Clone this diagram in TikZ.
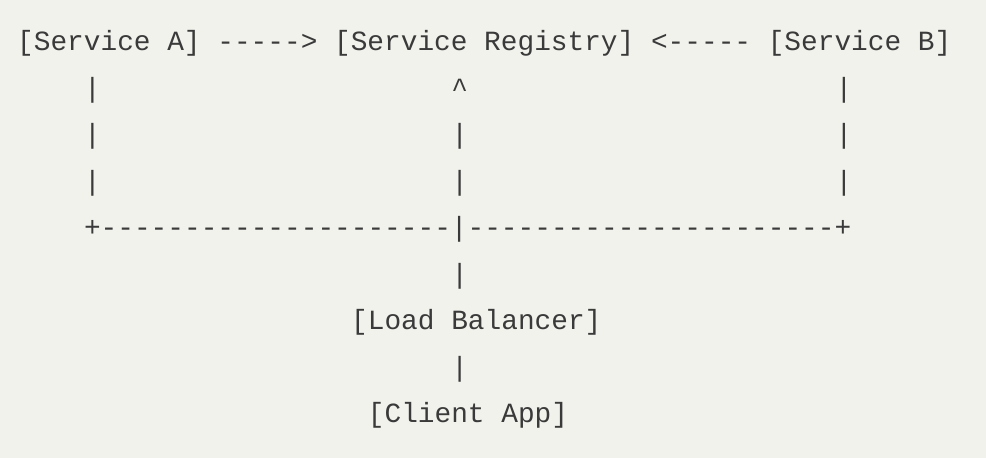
\documentclass[tikz,border=0pt]{standalone}
\usepackage{fontspec}
\setmonofont{Liberation Mono}
\definecolor{bg}{HTML}{F2F2ED}
\definecolor{ink}{HTML}{3A3A3A}
\begin{document}
\begin{tikzpicture}[x=1pt,y=1pt,
  t/.style={anchor=base west,inner sep=0pt,text=ink,font=\ttfamily\fontsize{27.8}{30}\selectfont}]
\fill[bg] (0,0) rectangle (986,458);
\useasboundingbox (0,0) rectangle (986,458);
\def\cx#1{17+#1*16.7}
\def\ly#1{458-51-#1*46.5}
\node[t] (l1) at ({\cx{0}},{\ly{0}}) {[Service A] -----> [Service Registry] <----- [Service B]};
\foreach \r in {1,2,3}{
  \node[t] (a\r) at ({\cx{4}},{\ly{\r}}) {|};
  \node[t] (b\r) at ({\cx{49}},{\ly{\r}}) {|};
}
\node[t] (c1) at ({\cx{26}},{\ly{1}}) {\^{}};
\node[t] (c2) at ({\cx{26}},{\ly{2}}) {|};
\node[t] (c3) at ({\cx{26}},{\ly{3}}) {|};
\node[t] (l5) at ({\cx{4}},{\ly{4}}) {+---------------------|----------------------+};
\node[t] (c5) at ({\cx{26}},{\ly{5}}) {|};
\node[t] (lb) at ({\cx{20}},{\ly{6}}) {[Load Balancer]};
\node[t] (c7) at ({\cx{26}},{\ly{7}}) {|};
\node[t] (ca) at ({\cx{21}},{\ly{8}}) {[Client App]};
\end{tikzpicture}
\end{document}
